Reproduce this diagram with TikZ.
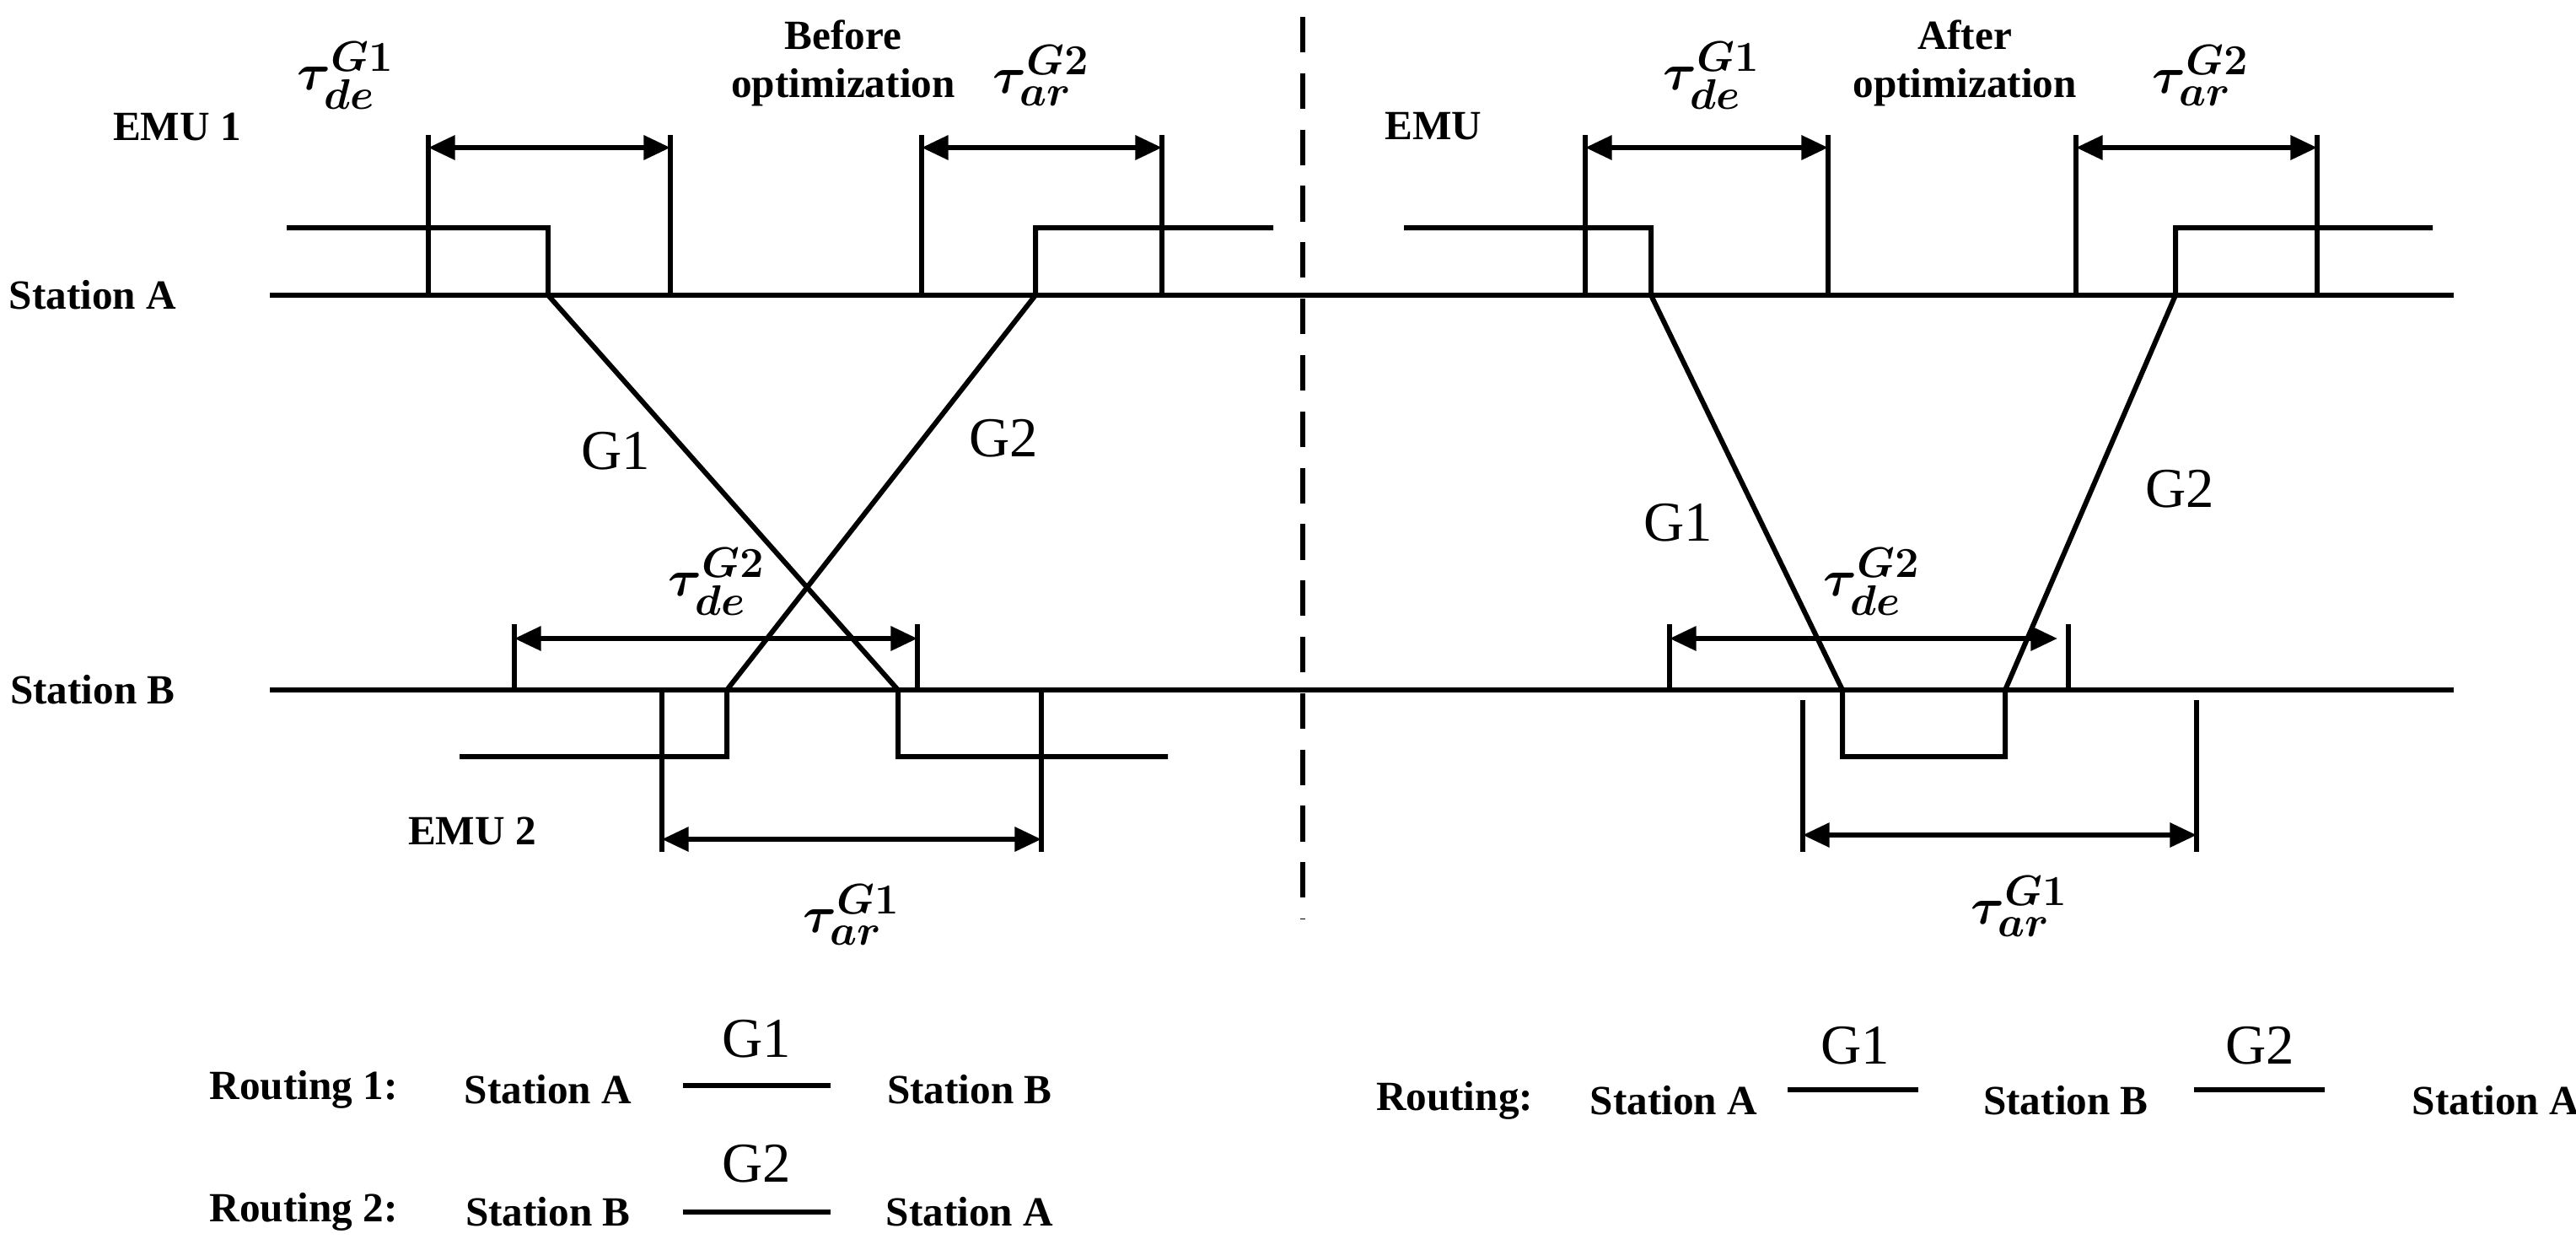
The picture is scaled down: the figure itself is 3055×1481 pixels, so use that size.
\documentclass[tikz,border=0pt]{standalone}
\usepackage{fontspec}
\usepackage{amsmath,bm}
\setmainfont{Liberation Serif}
\usetikzlibrary{arrows.meta}
\begin{document}
\begin{tikzpicture}[x=0.01cm,y=-0.01cm,
  ln/.style={line width=1.7pt},
  dim/.style={line width=1.7pt,{Triangle[length=9pt,width=8pt]}-{Triangle[length=9pt,width=8pt]}},
  lab/.style={font=\bfseries\fontsize{14}{16}\selectfont},
  gl/.style={font=\fontsize{19}{21}\selectfont},
  tl/.style={font=\fontsize{19}{21}\selectfont}]
\useasboundingbox (0,0) rectangle (3055,1481);
% labels
\node[lab] (emu1) at (210,150) {EMU 1};
\node[lab] (sa) at (110,350) {Station A};
\node[lab] (sb) at (110,818) {Station B};
\node[lab] (emu2) at (560,985) {EMU 2};
\node[lab,align=center] (bo) at (1000,75) {Before\\optimization};
\node[lab,align=center] (ao) at (2330,75) {After\\optimization};
\node[lab] (emu) at (1700,150) {EMU};
% station lines
\coordinate (a0) at (320,350); \coordinate (a1) at (2910,350);
\coordinate (b0) at (320,818); \coordinate (b1) at (2910,818);
\draw[ln] (a0) -- (a1);
\draw[ln] (b0) -- (b1);
\coordinate (d0) at (1545,20); \coordinate (d1) at (1545,1090);
\draw[ln,dash pattern=on 12pt off 7pt] (d0) -- (d1);
% left panel
\coordinate (l1) at (650,350); \coordinate (l2) at (1065,818);
\coordinate (l3) at (1228,350); \coordinate (l4) at (862,818);
\draw[ln] (340,270) -- (650,270) -- (l1) -- (l2) -- (1065,897) -- (1385,897);
\draw[ln] (1510,270) -- (1228,270) -- (l3) -- (l4) -- (862,897) -- (545,897);
\draw[ln] (508,160) -- (508,350) (795,160) -- (795,350);
\draw[dim] (508,175) -- (795,175);
\draw[ln] (1093,160) -- (1093,350) (1378,160) -- (1378,350);
\draw[dim] (1093,175) -- (1378,175);
\draw[ln] (610,740) -- (610,818) (1088,740) -- (1088,818);
\draw[dim] (610,757) -- (1088,757);
\draw[ln] (785,818) -- (785,1010) (1235,818) -- (1235,1010);
\draw[dim] (785,995) -- (1235,995);
\node[tl] (t1) at (410,90) {$\bm{\tau}^{\bm{G1}}_{\bm{de}}$};
\node[tl] (t2) at (1235,90) {$\bm{\tau}^{\bm{G2}}_{\bm{ar}}$};
\node[tl] (t3) at (850,690) {$\bm{\tau}^{\bm{G2}}_{\bm{de}}$};
\node[tl] (t4) at (1010,1085) {$\bm{\tau}^{\bm{G1}}_{\bm{ar}}$};
\node[gl] (g1l) at (730,535) {G1};
\node[gl] (g2l) at (1190,520) {G2};
% right panel
\coordinate (r1) at (1958,350); \coordinate (r2) at (2185,818);
\coordinate (r3) at (2580,350); \coordinate (r4) at (2378,818);
\draw[ln] (1665,270) -- (1958,270) -- (r1) -- (r2) -- (2185,897) -- (2378,897) -- (r4) -- (r3) -- (2580,270) -- (2885,270);
\draw[ln] (1880,160) -- (1880,350) (2168,160) -- (2168,350);
\draw[dim] (1880,175) -- (2168,175);
\draw[ln] (2462,160) -- (2462,350) (2748,160) -- (2748,350);
\draw[dim] (2462,175) -- (2748,175);
\draw[ln] (1980,740) -- (1980,818) (2453,740) -- (2453,818);
\draw[dim] (1980,757) -- (2440,757);
\draw[ln] (2138,830) -- (2138,1010) (2605,830) -- (2605,1010);
\draw[dim] (2138,990) -- (2605,990);
\node[tl] (t5) at (2030,90) {$\bm{\tau}^{\bm{G1}}_{\bm{de}}$};
\node[tl] (t6) at (2610,90) {$\bm{\tau}^{\bm{G2}}_{\bm{ar}}$};
\node[tl] (t7) at (2220,690) {$\bm{\tau}^{\bm{G2}}_{\bm{de}}$};
\node[tl] (t8) at (2395,1075) {$\bm{\tau}^{\bm{G1}}_{\bm{ar}}$};
\node[gl] (g1r) at (1990,620) {G1};
\node[gl] (g2r) at (2585,580) {G2};
% routing
\node[lab] (ro1) at (360,1292) {Routing 1:};
\node[lab] (ro1a) at (650,1292) {Station A};
\draw[ln] (810,1287) -- (985,1287);
\node[gl] (ro1g) at (897,1232) {G1};
\node[lab] (ro1b) at (1150,1292) {Station B};
\node[lab] (ro2) at (360,1437) {Routing 2:};
\node[lab] (ro2b) at (650,1437) {Station B};
\draw[ln] (810,1437) -- (985,1437);
\node[gl] (ro2g) at (897,1380) {G2};
\node[lab] (ro2a) at (1150,1437) {Station A};
\node[lab] (ro) at (1725,1305) {Routing:};
\node[lab] (roa) at (1985,1305) {Station A};
\draw[ln] (2120,1292) -- (2275,1292);
\node[gl] (rog1) at (2200,1240) {G1};
\node[lab] (rob) at (2450,1305) {Station B};
\draw[ln] (2602,1292) -- (2757,1292);
\node[gl] (rog2) at (2680,1240) {G2};
\node[lab] (roa2) at (2960,1305) {Station A};
\end{tikzpicture}
\end{document}
